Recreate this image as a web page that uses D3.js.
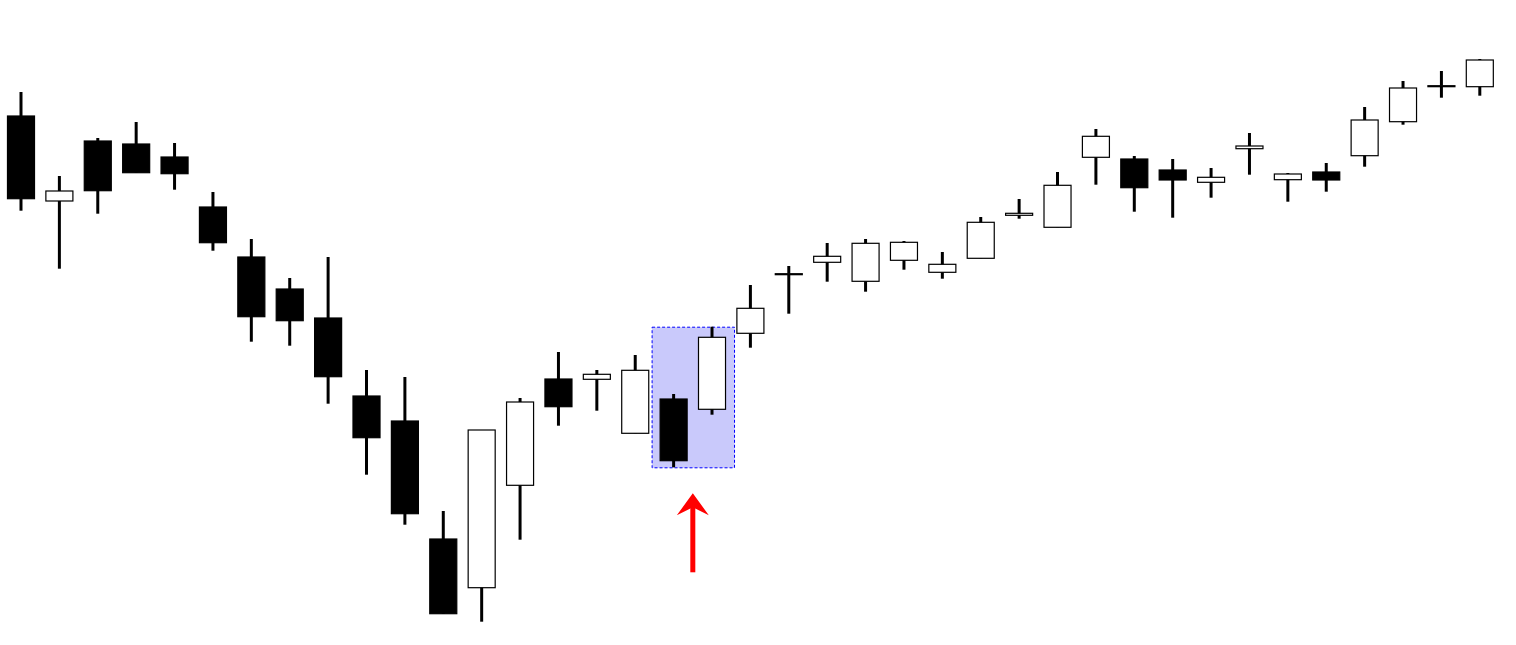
<!DOCTYPE html>
<html>
<head>
<meta charset="utf-8">
<script src="https://cdn.jsdelivr.net/npm/d3@7"></script>
<style>
  html, body { margin: 0; padding: 0; background: #fff; }
  svg { display: block; }
</style>
</head>
<body>
<script>
// 画布尺寸
var w = 1516,
  h = 645;

// K线数据（开、高、低、收）
var opens = [92.40, 83.90, 89.90, 89.60, 88.30, 83.30, 78.30, 75.10, 72.20, 64.40,
  61.90, 50.10, 45.23, 55.47, 66.10, 66.07, 60.67, 64.10, 63.07, 70.67,
  76.63, 77.77, 75.87, 77.97, 76.77, 78.17, 82.47, 81.27, 88.27, 88.10,
  87.00, 85.77, 89.13, 86.03, 86.80, 88.43, 91.83, 95.43, 95.33];
var highs = [94.80, 86.40, 90.20, 91.80, 89.70, 84.80, 80.10, 76.20, 78.30, 67.00,
  66.30, 52.90, 61.00, 64.20, 68.80, 67.00, 68.50, 64.60, 71.33, 75.50,
  77.40, 79.70, 80.10, 79.90, 78.80, 82.30, 84.10, 86.80, 91.10, 88.40,
  88.10, 87.20, 90.70, 86.70, 87.70, 93.30, 95.90, 96.90, 98.10];
var lows = [82.93, 77.13, 82.63, 86.73, 85.03, 78.93, 69.83, 69.43, 63.63, 56.53,
  51.53, 42.60, 41.83, 50.03, 61.43, 62.93, 60.67, 57.27, 62.53, 69.23,
  72.63, 75.83, 74.83, 77.03, 76.13, 78.17, 82.13, 81.27, 85.53, 82.83,
  82.23, 84.23, 86.53, 83.83, 84.83, 87.33, 91.53, 94.23, 94.43];
var closes = [84.13, 84.90, 84.93, 86.73, 86.63, 79.73, 72.33, 71.93, 66.33, 60.23,
  52.63, 42.63, 61.00, 63.80, 63.33, 66.57, 66.97, 57.93, 70.27, 73.17,
  76.63, 78.37, 79.67, 79.77, 77.57, 81.77, 82.67, 85.47, 90.37, 85.23,
  86.00, 86.27, 89.40, 86.60, 86.00, 92.00, 95.20, 95.43, 98.00];

// 高亮的形态（第18、19根）
var patternIdx = [17, 18];

var data = opens.map(function (o, i) {
  return { i: i, open: o, high: highs[i], low: lows[i], close: closes[i] };
});

var svg = d3.select("body").append("svg")
  .attr("width", w)
  .attr("height", h);

var xScale = d3.scaleBand()
  .domain(d3.range(data.length))
  .range([1.8, 1499])
  .paddingInner(0.27)
  .paddingOuter(0.135);

var yScale = d3.scaleLinear()
  .domain([40, 100])
  .range([640, 40]);

var bw = xScale.bandwidth();

// 高亮区域
var pat = patternIdx.map(function (k) { return data[k]; });
var hx0 = xScale(patternIdx[0]) - 8,
  hx1 = xScale(patternIdx[patternIdx.length - 1]) + bw + 8,
  hy0 = yScale(d3.max(pat, function (d) { return d.high; })),
  hy1 = yScale(d3.min(pat, function (d) { return d.low; }));

svg.append("rect")
  .attr("x", hx0 + 0.5)
  .attr("y", hy0 + 0.5)
  .attr("width", hx1 - hx0)
  .attr("height", hy1 - hy0)
  .attr("fill", "#c9c9fb")
  .attr("stroke", "#0000ff")
  .attr("stroke-width", 1)
  .attr("stroke-dasharray", "3,2");

// 影线
svg.selectAll(".wick")
  .data(data)
  .enter()
  .append("line")
  .attr("class", "wick")
  .attr("x1", function (d) { return xScale(d.i) + bw / 2; })
  .attr("x2", function (d) { return xScale(d.i) + bw / 2; })
  .attr("y1", function (d) { return yScale(d.high); })
  .attr("y2", function (d) { return yScale(d.low); })
  .attr("stroke", "#000")
  .attr("stroke-width", 3);

// 实体
svg.selectAll(".body")
  .data(data)
  .enter()
  .append("rect")
  .attr("class", "body")
  .attr("x", function (d) { return xScale(d.i) + 0.5; })
  .attr("y", function (d) { return yScale(Math.max(d.open, d.close)); })
  .attr("width", bw - 1)
  .attr("height", function (d) {
    return Math.max(1, Math.abs(yScale(d.open) - yScale(d.close)));
  })
  .attr("fill", function (d) { return d.close < d.open ? "#000" : "#fff"; })
  .attr("stroke", "#000")
  .attr("stroke-width", 1.2);

// 红色箭头
var ax = (xScale(patternIdx[0]) + xScale(patternIdx[1]) + bw) / 2,
  aTip = hy1 + 26,
  aEnd = hy1 + 105;

svg.append("line")
  .attr("x1", ax)
  .attr("x2", ax)
  .attr("y1", aTip + 10)
  .attr("y2", aEnd)
  .attr("stroke", "#ff0000")
  .attr("stroke-width", 5);

svg.append("path")
  .attr("d", "M" + ax + "," + aTip +
    " L" + (ax + 16) + "," + (aTip + 22) +
    " L" + ax + "," + (aTip + 14) +
    " L" + (ax - 16) + "," + (aTip + 22) + " Z")
  .attr("fill", "#ff0000");
</script>
</body>
</html>
